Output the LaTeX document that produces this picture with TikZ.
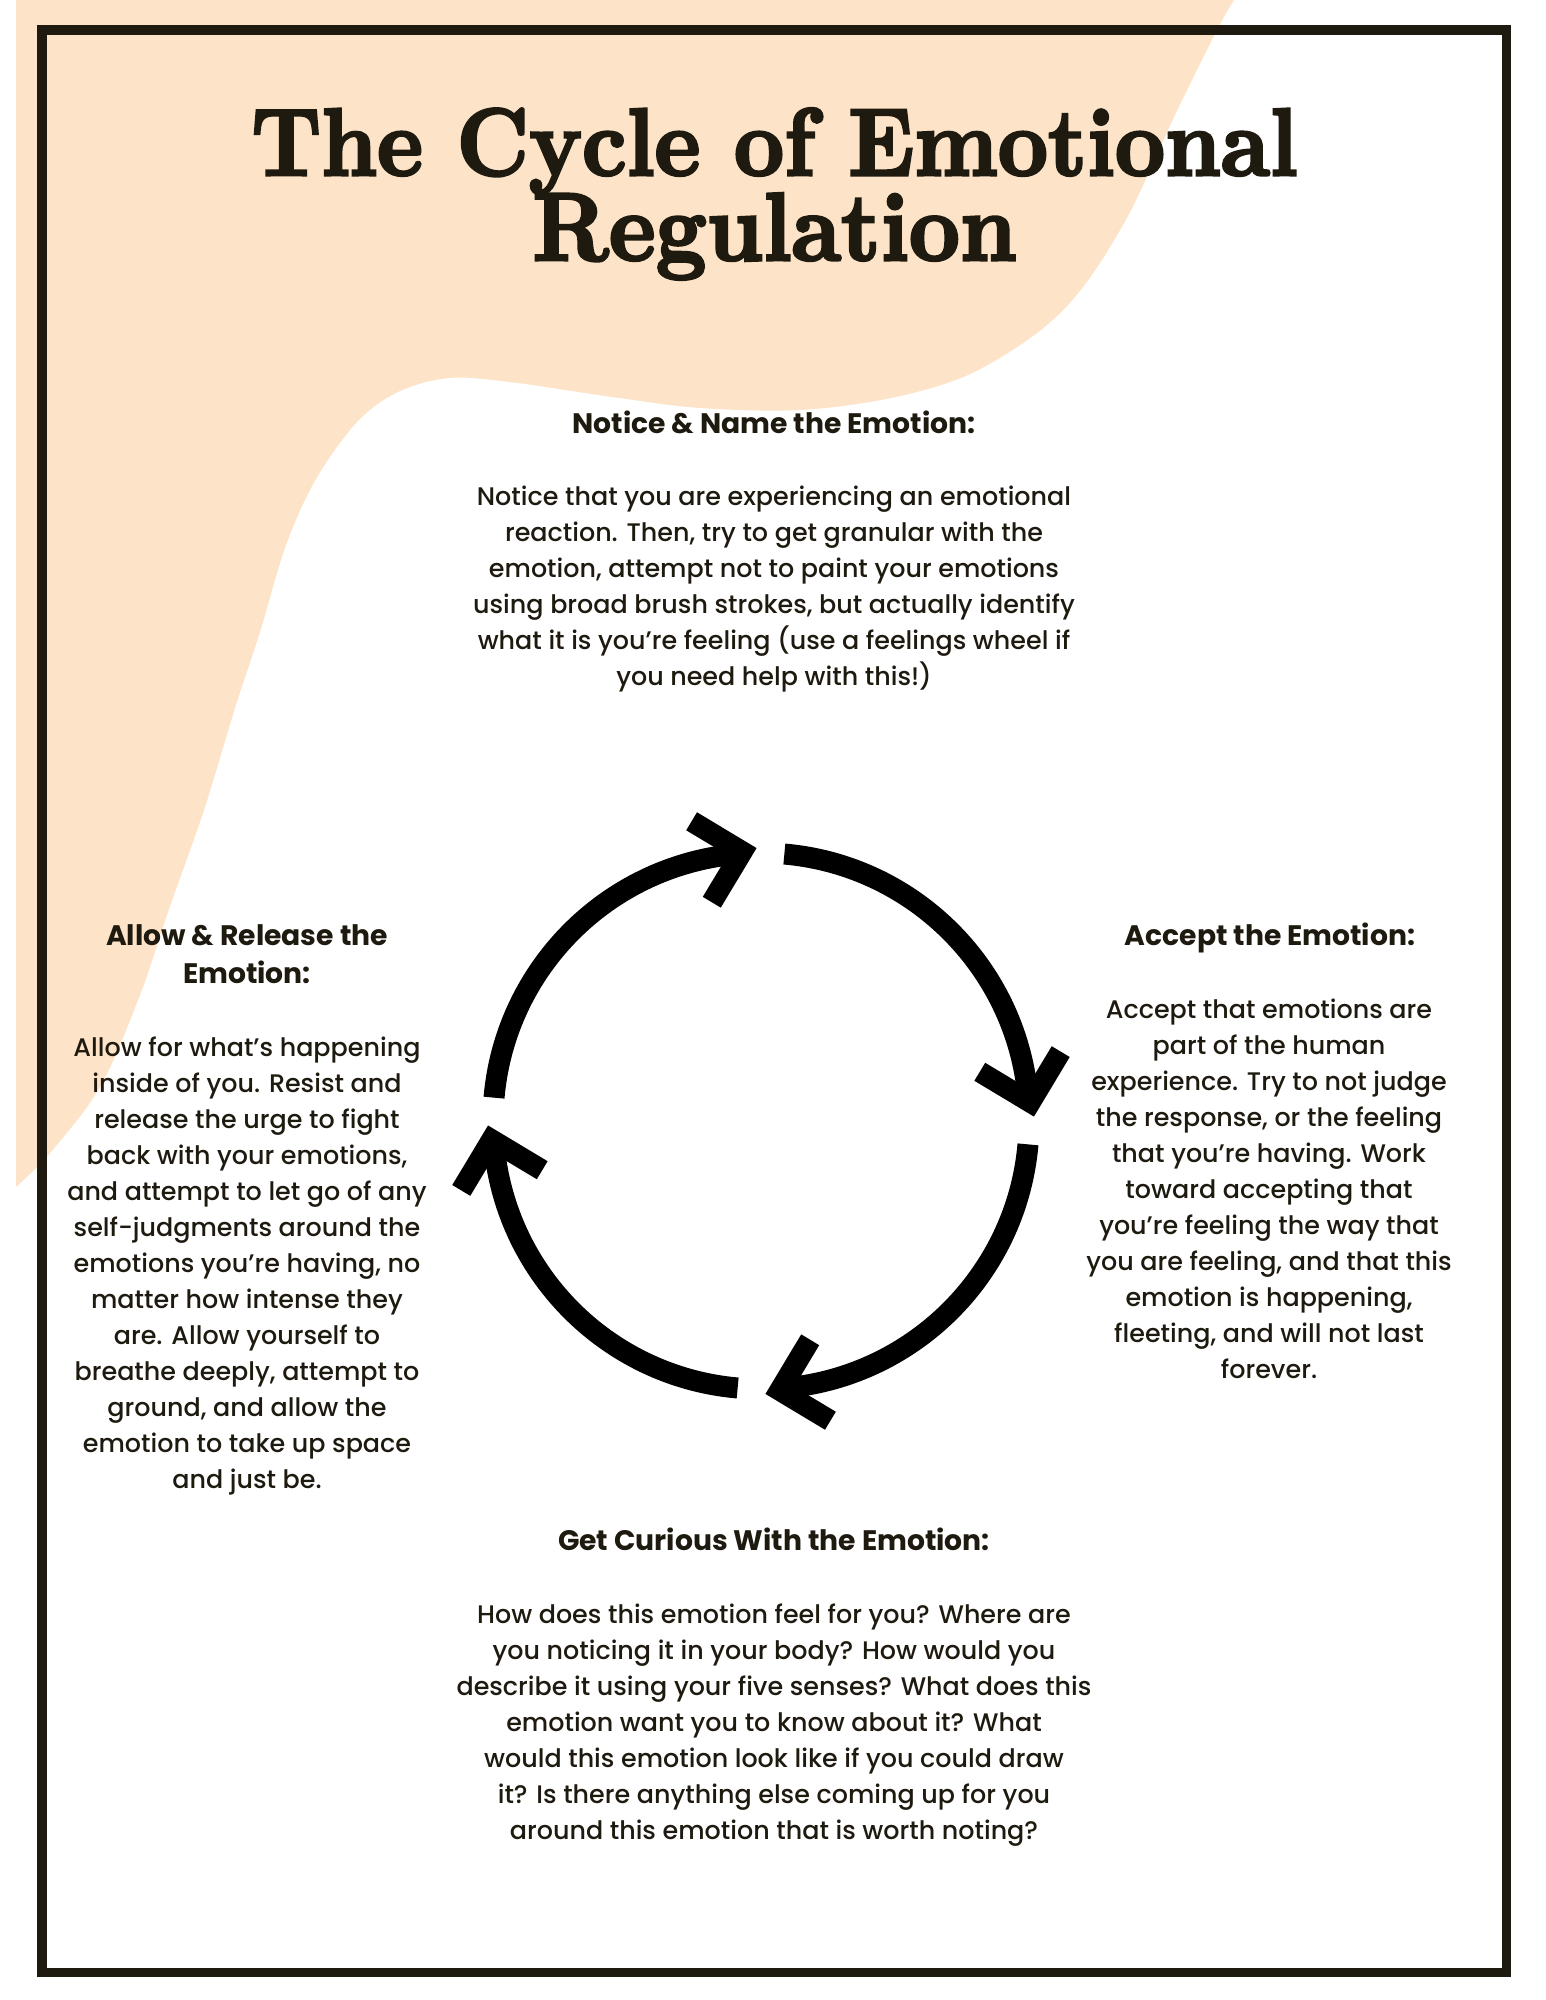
\documentclass[tikz,border=0pt]{standalone}
\usepackage{fontspec}
\usepackage{graphicx}
\newfontfamily\bodyfont{Poppins Medium}
\newfontfamily\headfont{Poppins Bold}
\newfontfamily\titlefont{lmroman10-bold.otf}[FakeBold=3]
\usetikzlibrary{calc}
\definecolor{ink}{HTML}{1F1A0F}
\definecolor{peach}{RGB}{253,228,200}
\newcommand{\titleline}[2]{\raisebox{0pt}[\height][0pt]{\resizebox{#1}{67pt}{\titlefont #2}}}
\begin{document}
\begin{tikzpicture}[x=1pt,y=-1pt,
  heading/.style={font=\headfont\fontsize{28.2}{38}\selectfont, text=ink, align=center, inner sep=0pt},
  body/.style={font=\bodyfont\fontsize{25.4}{36}\selectfont, text=ink, align=center, inner sep=0pt},
  titletext/.style={font=\fontsize{20}{85}\selectfont, text=ink, inner sep=0pt, align=center, anchor=north},
  arcline/.style={line width=21pt, draw=black},
  frame/.style={line width=9.5pt, draw=ink}]
\useasboundingbox (0,0) rectangle (1545,2000);
\fill[white] (0,0) rectangle (1545,2000);
% peach blob
\fill[peach] (16,0) -- plot[smooth, tension=0.55] coordinates {(1234,0) (1217,30) (1175,115) (1129,214) (1083,287) (1037,333) (968,375) (891,398) (800,410) (700,408) (612,397) (510,382) (449,378) (398,392) (357,422) (316,479) (286,545) (260,632) (235,708) (204,810) (168,912) (140,995) (100,1087) (50,1153) (16,1187)} -- cycle;
% frame
\draw[frame] (41.75,29.75) rectangle (1506.25,1972.25);
% title
\node[titletext] (title) at (774.5,108) {\titleline{1046pt}{The Cycle of Emotional}\\\titleline{484pt}{Regulation}};
% cycle arrows
\coordinate (C) at (761,1121);
\foreach \k in {0,1,2,3}{
  \pgfmathsetmacro\s{-85+90*\k}
  \pgfmathsetmacro\e{-4+90*\k}
  \pgfmathsetmacro\d{76+90*\k}
  \draw[arcline] ($(C)+(\s:268)$) arc[start angle=\s, end angle=\e, radius=268];
  \coordinate (V\k) at ($(C)+(\e:270)$);
  \draw[arcline, line join=miter] ($(V\k)+({\d+135}:59)$) -- (V\k) -- ($(V\k)+({\d-135}:59)$);
}
% texts
\node[heading, anchor=base] (h1) at (774,433) {Notice \& Name the Emotion:};
\node[body] (p1) at (774,589) {Notice that you are experiencing an emotional\\reaction. Then, try to get granular with the\\emotion, attempt not to paint your emotions\\using broad brush strokes, but actually identify\\what it is you’re feeling (use a feelings wheel if\\you need help with this!)};
\node[heading] (h2) at (247,954) {Allow \& Release the\\Emotion:};
\node[body] (p2) at (247,1266) {Allow for what’s happening\\inside of you. Resist and\\release the urge to fight\\back with your emotions,\\and attempt to let go of any\\self-judgments around the\\emotions you’re having, no\\matter how intense they\\are. Allow yourself to\\breathe deeply, attempt to\\ground, and allow the\\emotion to take up space\\and just be.};
\node[heading, anchor=base] (h3) at (1270,945) {Accept the Emotion:};
\node[body] (p3) at (1269,1189) {Accept that emotions are\\part of the human\\experience. Try to not judge\\the response, or the feeling\\that you’re having. Work\\toward accepting that\\you’re feeling the way that\\you are feeling, and that this\\emotion is happening,\\fleeting, and will not last\\forever.};
\node[heading, anchor=base] (h4) at (774,1550) {Get Curious With the Emotion:};
\node[body] (p4) at (774,1725) {How does this emotion feel for you? Where are\\you noticing it in your body? How would you\\describe it using your five senses? What does this\\emotion want you to know about it? What\\would this emotion look like if you could draw\\it? Is there anything else coming up for you\\around this emotion that is worth noting?};
\end{tikzpicture}
\end{document}
